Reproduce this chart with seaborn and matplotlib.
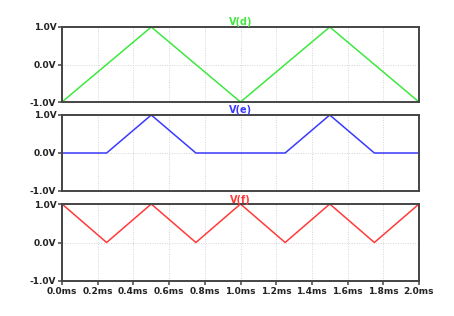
import matplotlib
matplotlib.use("Agg")
import matplotlib.pyplot as plt
import seaborn as sns
import pandas as pd
from matplotlib.ticker import FuncFormatter, MultipleLocator

sns.set_theme(style="white")
plt.rcParams['font.family'] = ['DejaVu Sans']

t_d = [0.0, 0.5, 1.0, 1.5, 2.0]
v_d = [-1.0, 1.0, -1.0, 1.0, -1.0]
t_e = [0.0, 0.25, 0.5, 0.75, 1.25, 1.5, 1.75, 2.0]
v_e = [0.0, 0.0, 1.0, 0.0, 0.0, 1.0, 0.0, 0.0]
t_f = [0.0, 0.25, 0.5, 0.75, 1.0, 1.25, 1.5, 1.75, 2.0]
v_f = [1.0, 0.0, 1.0, 0.0, 1.0, 0.0, 1.0, 0.0, 1.0]
names = ["V(d)", "V(e)", "V(f)"]
colors = ["#3ee83e", "#3a3aff", "#ff3a3a"]

series = [(t_d, v_d), (t_e, v_e), (t_f, v_f)]
W, H = 454, 316
fig = plt.figure(figsize=(W / 100, H / 100), dpi=100)
boxes = [(27, 102), (115, 191), (204, 281)]
left, right = 62, 419
edge = "#444444"
for i, ((t, v), (top, bot)) in enumerate(zip(series, boxes)):
    ax = fig.add_axes([left / W, (H - bot) / H, (right - left) / W, (bot - top) / H])
    df = pd.DataFrame({"t": t, "v": v})
    sns.lineplot(data=df, x="t", y="v", ax=ax, color=colors[i], linewidth=1.1)
    ax.set_xlim(0, 2.0)
    ax.set_ylim(-1, 1)
    ax.xaxis.set_major_locator(MultipleLocator(0.2))
    ax.set_yticks([-1, 0, 1])
    ax.yaxis.set_major_formatter(FuncFormatter(lambda y, p: f"{y:.1f}V"))
    ax.xaxis.set_major_formatter(FuncFormatter(lambda x, p: f"{x:.1f}ms"))
    ax.grid(True, color="#d4d4d4", linestyle=(0, (1, 1.5)), linewidth=0.7)
    for s in ax.spines.values():
        s.set_color(edge)
        s.set_linewidth(1.4)
    ax.tick_params(axis="both", which="major", direction="out", length=3,
                   width=1.1, color=edge, labelsize=6.5, pad=1, labelcolor="#222222",
                   left=True, bottom=True)
    for lab in ax.get_yticklabels() + ax.get_xticklabels():
        lab.set_fontweight("bold")
    if i < 2:
        ax.tick_params(axis="x", labelbottom=False, bottom=False)
    ax.set_xlabel("")
    ax.set_ylabel("")
    ax.set_title(names[i], color=colors[i], fontsize=7, fontweight="bold", pad=0.5)

fig.savefig("out.png", dpi=100)
